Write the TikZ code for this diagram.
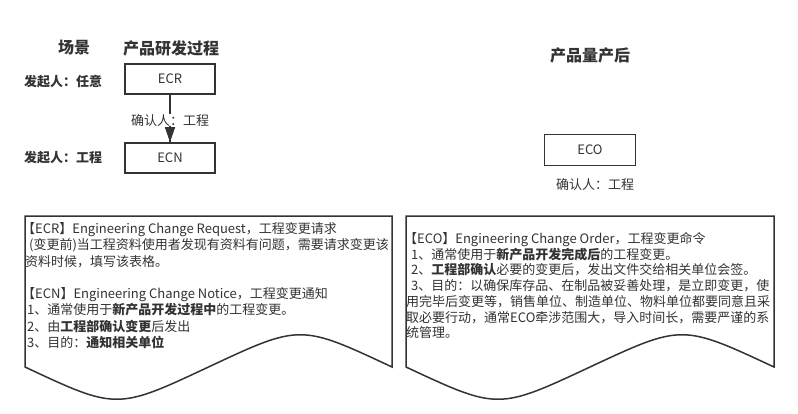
\documentclass[tikz,border=0pt]{standalone}
\usepackage{fontspec}
\setmainfont{Noto Sans CJK SC}
\usetikzlibrary{arrows.meta}
\definecolor{ink}{RGB}{51,51,51}
\begin{document}
\begin{tikzpicture}[x=1pt,y=-1pt,
  every node/.style={text=ink,font=\fontsize{13}{16}\selectfont},
  title/.style={font=\fontsize{16}{19}\selectfont\bfseries},
  who/.style={font=\fontsize{13}{16}\selectfont\bfseries},
  box/.style={draw=ink,line width=1.6pt,minimum width=90pt,minimum height=30pt,inner sep=0pt},
  docline/.style={anchor=base west,inner sep=0pt},
  doc/.style={draw=ink,line width=1.5pt},
  link/.style={draw=ink,line width=1.5pt},
  flow/.style={draw=ink,line width=1.5pt,-{Triangle[length=15pt,width=10pt]}},
  conf/.style={fill=white,inner sep=1pt}]
\useasboundingbox[fill=white] (0,0) rectangle (798,413);
% headers
\node[title] (hscene) at (74,48) {场景};
\node[title] (hdev) at (171,48) {产品研发过程};
\node[title] (hmass) at (590,55) {产品量产后};
\node[who] (w1) at (63,82) {发起人：任意};
\node[who] (w2) at (63,158) {发起人：工程};
% boxes
\node[box] (ecr) at (170,79) {ECR};
\node[box] (ecn) at (170,158) {ECN};
\node[box,minimum width=91pt,minimum height=31pt] (eco) at (590,150) {ECO};
\node (ecoconf) at (595,185) {确认人：工程};
% connector ECR -> ECN, label over the line, arrow tip over the label
\draw[link] (ecr) -- (ecn);
\node[conf] (conf) at (170,121) {确认人：工程};
\coordinate (tipstart) at ([yshift=16pt]ecn.north);
\draw[flow] (tipstart) -- (ecn);
% documents
\draw[doc] (25,216) -- (392,216) -- (392,367) .. controls (300.25,324) .. (208.5,367) .. controls (116.75,410) .. (25,367) -- cycle;
\draw[doc] (406,216) -- (774,216) -- (774,367) .. controls (682,324) .. (590,367) .. controls (498,410) .. (406,367) -- cycle;
% left text
\node[docline] (l1) at (22,233.5) {【ECR】Engineering Change Request，工程变更请求};
\node[docline] (l2) at (29,249.75) {(变更前)当工程资料使用者发现有资料有问题，需要请求变更该};
\node[docline] (l3) at (25,266) {资料时候，填写该表格。};
\node[docline] (l4) at (22,298.5) {【ECN】Engineering Change Notice，工程变更通知};
\node[docline] (l5) at (27,314.75) {1、通常使用于\textbf{新产品开发过程中}的工程变更。};
\node[docline] (l6) at (27,331) {2、由\textbf{工程部确认变更}后发出};
\node[docline] (l7) at (27,347.25) {3、目的：\textbf{通知相关单位}};
% right text
\node[docline] (r1) at (404,243.3) {【ECO】Engineering Change Order，工程变更命令};
\node[docline] (r2) at (411,259.1) {1、通常使用于\textbf{新产品开发完成后}的工程变更。};
\node[docline] (r3) at (411,274.8) {2、\textbf{工程部确认}必要的变更后，发出文件交给相关单位会签。};
\node[docline] (r4) at (411,290.6) {3、目的：以确保库存品、在制品被妥善处理，是立即变更，使};
\node[docline] (r5) at (406,306.3) {用完毕后变更等，销售单位、制造单位、物料单位都要同意且采};
\node[docline] (r6) at (406,322.1) {取必要行动，通常ECO牵涉范围大，导入时间长，需要严谨的系};
\node[docline] (r7) at (406,337.8) {统管理。};
\end{tikzpicture}
\end{document}
